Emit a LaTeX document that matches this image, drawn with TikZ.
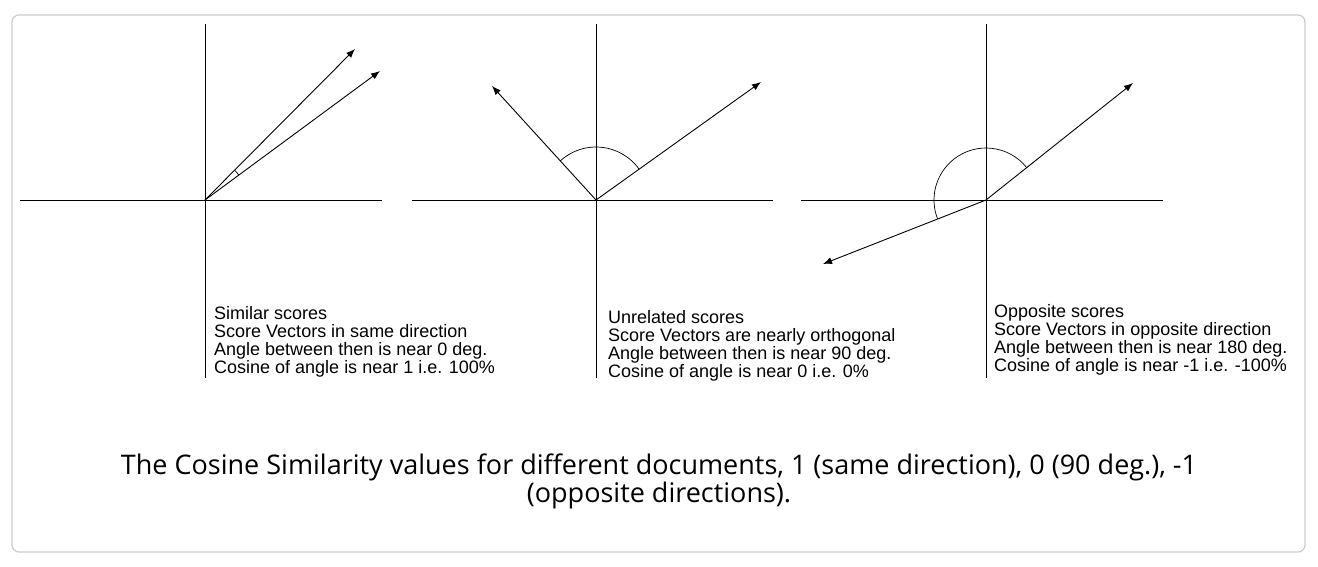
\documentclass[tikz,border=0pt]{standalone}
\usepackage{fontspec}
\setmainfont{Liberation Sans}
\newfontfamily\capfont{Open Sans}
\usetikzlibrary{arrows.meta}
\begin{document}
\begin{tikzpicture}[x=1pt,y=-1pt,
  axis/.style={line width=0.9pt},
  vec/.style={line width=0.9pt,-{Latex[length=9pt,width=7pt]}},
  ang/.style={line width=0.7pt},
  lbl/.style={anchor=north west,align=left,font=\fontsize{18}{18}\selectfont,inner sep=0pt},
  captext/.style={align=center,font=\capfont\fontsize{27}{25}\selectfont}]
\useasboundingbox (0,0) rectangle (1318,566);
\draw[gray!40,line width=1.2pt,rounded corners=7pt] (12,15) rectangle (1305,552);
% panel 1
\coordinate (o1) at (205,200);
\draw[axis] (205,24) -- (205,378); \draw[axis] (20,200) -- (382,200);
\coordinate (a1) at (355,49); \coordinate (b1) at (380,71);
\draw[vec] (o1) -- (a1); \draw[vec] (o1) -- (b1);
\draw[ang] (o1) ++(-36.4:42) arc[start angle=-36.4,end angle=-45,radius=42];
\node[lbl] (t1) at (214,306) {Similar scores\\Score Vectors in same direction\\Angle between then is near 0 deg.\\Cosine of angle is near 1 i.e. 100\%};
% panel 2
\coordinate (o2) at (596,200);
\draw[axis] (596,24) -- (596,378); \draw[axis] (412,200) -- (773,200);
\coordinate (a2) at (492,86); \coordinate (b2) at (761,82);
\draw[vec] (o2) -- (a2); \draw[vec] (o2) -- (b2);
\draw[ang] (o2) ++(-35.6:53) arc[start angle=-35.6,end angle=-132.4,radius=53];
\node[lbl] (t2) at (608,310) {Unrelated scores\\Score Vectors are nearly orthogonal\\Angle between then is near 90 deg.\\Cosine of angle is near 0 i.e. 0\%};
% panel 3
\coordinate (o3) at (986,200);
\draw[axis] (986,24) -- (986,378); \draw[axis] (801,200) -- (1163,200);
\coordinate (a3) at (1133,83); \coordinate (b3) at (823,264);
\draw[vec] (o3) -- (a3); \draw[vec] (o3) -- (b3);
\draw[ang] (o3) ++(-38.5:52) arc[start angle=-38.5,end angle=-201.4,radius=52];
\node[lbl] (t3) at (994,304) {Opposite scores\\Score Vectors in opposite direction\\Angle between then is near 180 deg.\\Cosine of angle is near -1 i.e. -100\%};
% caption
\node[captext] (c) at (659,481) {The Cosine Similarity values for different documents, 1 (same direction), 0 (90 deg.), -1\\(opposite directions).};
\end{tikzpicture}
\end{document}
